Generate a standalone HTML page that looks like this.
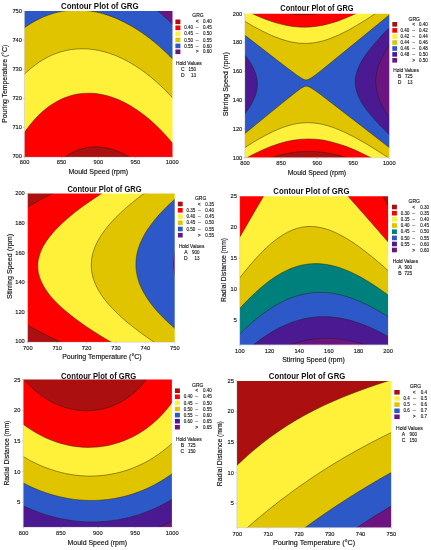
<!DOCTYPE html>
<html lang="en"><head><meta charset="utf-8"><title>Contour Plots of GRG</title>
<style>html,body{margin:0;padding:0;background:#fff}svg{display:block}text{font-family:"Liberation Sans",sans-serif}</style></head><body>
<svg width="431" height="550" viewBox="0 0 431 550">
<rect width="431" height="550" fill="#fff"/>
<g>
<g>
<rect x="22.6" y="9.1" width="151.9" height="149.9" fill="#AB0F0F"/>
<path d="M22.6,9.1 174.5,9.1 174.5,159 132.7,159 128.2,156.2 123.5,153.7 118.8,151.6 114.1,149.9 109.4,148.5 104.7,147.6 100,147 95.9,146.8 91.2,147 87.1,147.5 82.4,148.6 78.3,149.9 74.2,151.6 70.1,153.7 66,156.2 62.2,159 22.6,159 22.6,9.1Z" fill="#FF0000"/>
<path d="M22.6,9.1 174.5,9.1 174.5,145.5 169.8,139.9 164.5,134 159.7,128.9 154.6,124 149.7,119.6 144.6,115.5 139.3,111.5 134,108 129.3,105.1 124.1,102.3 118.8,99.8 113.5,97.7 108.2,96 102.9,94.7 97.7,93.8 93,93.3 87.7,93.2 83,93.4 77.7,94 73,95 68.3,96.4 63.7,98.1 59,100.3 54.3,102.9 49.8,105.8 45.5,109.1 41.4,112.6 37.3,116.6 33.4,120.8 29.6,125.4 26.1,130.1 22.6,135.4 22.6,9.1Z" fill="#FFF03A"/>
<path d="M22.6,9.1 174.5,9.1 174.5,100 169.8,94.9 165.1,90 160.4,85.5 155.1,80.7 150.5,76.8 145.2,72.7 140.5,69.3 135.2,65.8 130.5,62.9 125.2,60 120,57.5 114.7,55.2 109.4,53.3 104.7,51.9 99.4,50.6 94.7,49.7 89.5,49.1 84.8,48.8 80.1,48.8 75.4,49.1 70.7,49.6 66,50.5 61.3,51.7 56.6,53.3 51.9,55.1 47.8,57.1 43.5,59.5 39,62.2 34.9,65.2 30.8,68.4 26.7,72 22.6,76 22.6,9.1Z" fill="#E1C400"/>
<path d="M22.6,9.1 174.5,9.1 174.5,60.9 166.3,52.7 158.1,45.2 149.9,38.5 141.7,32.5 133.4,27.3 129.3,24.9 124.7,22.4 120.5,20.4 116.4,18.5 112.3,16.9 108.2,15.4 102.4,13.6 96.5,12.1 90.6,11.1 85.4,10.4 79.5,10 74.2,10.1 68.9,10.4 63.7,11.1 58.4,12.1 53.1,13.4 47.8,15.2 42.5,17.3 37.3,19.9 32.6,22.5 27.3,25.8 22.6,29.2 22.6,9.1Z" fill="#2D58C8"/>
<path d="M155.6,9.1 174.5,9.1 174.5,26 169.8,21.5 165.1,17.2 160.4,13.1 155.6,9.1Z" fill="#6C1480"/>
<path d="M132.7,159 128.2,156.2 123.5,153.7 118.8,151.6 114.1,149.9 109.4,148.5 104.7,147.6 100,147 95.9,146.8 91.2,147 87.1,147.5 82.4,148.6 78.3,149.9 74.2,151.6 70.1,153.7 66,156.2 62.2,159M174.5,145.5 169.8,139.9 164.5,134 159.7,128.9 154.6,124 149.7,119.6 144.6,115.5 139.3,111.5 134,108 129.3,105.1 124.1,102.3 118.8,99.8 113.5,97.7 108.2,96 102.9,94.7 97.7,93.8 93,93.3 87.7,93.2 83,93.4 77.7,94 73,95 68.3,96.4 63.7,98.1 59,100.3 54.3,102.9 49.8,105.8 45.5,109.1 41.4,112.6 37.3,116.6 33.4,120.8 29.6,125.4 26.1,130.1 22.6,135.4M174.5,100 169.8,94.9 165.1,90 160.4,85.5 155.1,80.7 150.5,76.8 145.2,72.7 140.5,69.3 135.2,65.8 130.5,62.9 125.2,60 120,57.5 114.7,55.2 109.4,53.3 104.7,51.9 99.4,50.6 94.7,49.7 89.5,49.1 84.8,48.8 80.1,48.8 75.4,49.1 70.7,49.6 66,50.5 61.3,51.7 56.6,53.3 51.9,55.1 47.8,57.1 43.5,59.5 39,62.2 34.9,65.2 30.8,68.4 26.7,72 22.6,76M174.5,60.9 169.8,56.1 165.1,51.6 160.4,47.3 155.1,42.7 150,38.6 145.2,35 140.4,31.7 135.2,28.3 130.1,25.3 125.2,22.7 120,20.1 115.3,18 110.1,16 105.3,14.4 100.6,13.1 95.9,12 90.6,11.1 85.9,10.5 81.2,10.1 76.6,10 71.9,10.2 67.2,10.6 62.5,11.3 57.8,12.2 53.1,13.4 48.4,15 43.7,16.8 39.6,18.7 34.9,21.1 30.8,23.5 26.7,26.2 22.6,29.2M174.5,26 169.8,21.5 165.1,17.2 160.4,13.1 155.6,9.1" fill="none" stroke="#1c1c10" stroke-width="0.45"/>
<path fill="#fff" fill-rule="evenodd" d="M21.6,8.1H175.5V160H21.6ZM24.6,11.1H172.5V157H24.6Z"/>
</g>
<path d="M24.4,11.1V157.2H172.5" fill="none" stroke="#aaa" stroke-width="0.4"/>
<path d="M24.4,11.1h-1.3M24.4,40.2h-1.3M24.4,69.3h-1.3M24.4,98.4h-1.3M24.4,127.4h-1.3M24.4,156.5h-1.3M24.6,157.2v1.3M61.5,157.2v1.3M98.4,157.2v1.3M135.3,157.2v1.3M172.2,157.2v1.3" stroke="#888" stroke-width="0.4"/>
<text x="22" y="13" font-size="6.1" text-anchor="end" textLength="9.57" lengthAdjust="spacingAndGlyphs" fill="#111" stroke="#111" stroke-width="0.12">750</text>
<text x="22" y="42.1" font-size="6.1" text-anchor="end" textLength="9.57" lengthAdjust="spacingAndGlyphs" fill="#111" stroke="#111" stroke-width="0.12">740</text>
<text x="22" y="71.2" font-size="6.1" text-anchor="end" textLength="9.57" lengthAdjust="spacingAndGlyphs" fill="#111" stroke="#111" stroke-width="0.12">730</text>
<text x="22" y="100.3" font-size="6.1" text-anchor="end" textLength="9.57" lengthAdjust="spacingAndGlyphs" fill="#111" stroke="#111" stroke-width="0.12">720</text>
<text x="22" y="129.3" font-size="6.1" text-anchor="end" textLength="9.57" lengthAdjust="spacingAndGlyphs" fill="#111" stroke="#111" stroke-width="0.12">710</text>
<text x="22" y="158.4" font-size="6.1" text-anchor="end" textLength="9.57" lengthAdjust="spacingAndGlyphs" fill="#111" stroke="#111" stroke-width="0.12">700</text>
<text x="24.6" y="164.3" font-size="6.1" text-anchor="middle" textLength="9.57" lengthAdjust="spacingAndGlyphs" fill="#111" stroke="#111" stroke-width="0.12">800</text>
<text x="61.5" y="164.3" font-size="6.1" text-anchor="middle" textLength="9.57" lengthAdjust="spacingAndGlyphs" fill="#111" stroke="#111" stroke-width="0.12">850</text>
<text x="98.4" y="164.3" font-size="6.1" text-anchor="middle" textLength="9.57" lengthAdjust="spacingAndGlyphs" fill="#111" stroke="#111" stroke-width="0.12">900</text>
<text x="135.3" y="164.3" font-size="6.1" text-anchor="middle" textLength="9.57" lengthAdjust="spacingAndGlyphs" fill="#111" stroke="#111" stroke-width="0.12">950</text>
<text x="172.2" y="164.3" font-size="6.1" text-anchor="middle" textLength="12.76" lengthAdjust="spacingAndGlyphs" fill="#111" stroke="#111" stroke-width="0.12">1000</text>
<text x="99.8" y="8.8" font-size="8.2" text-anchor="middle" font-weight="bold" textLength="77.70" lengthAdjust="spacingAndGlyphs" fill="#111">Contour Plot of GRG</text>
<text x="98.3" y="174.1" font-size="7.5" text-anchor="middle" textLength="59.70" lengthAdjust="spacingAndGlyphs" fill="#111" stroke="#111" stroke-width="0.15">Mould Speed (rpm)</text>
<text x="7.2" y="83.8" font-size="7.5" text-anchor="middle" textLength="78.10" lengthAdjust="spacingAndGlyphs" transform="rotate(-90 7.2 83.8)" fill="#111" stroke="#111" stroke-width="0.15">Pouring Temperature (°C)</text>
<text x="198" y="17.3" font-size="5.0" text-anchor="middle" fill="#111" stroke="#111" stroke-width="0.12">GRG</text>
<rect x="175.4" y="19.5" width="5" height="4.6" fill="#AB0F0F"/>
<text x="197.1" y="23.4" font-size="5.0" text-anchor="middle" fill="#111" stroke="#111" stroke-width="0.12">&lt;</text>
<text x="211.8" y="23.4" font-size="5.0" text-anchor="end" textLength="8.76" lengthAdjust="spacingAndGlyphs" fill="#111" stroke="#111" stroke-width="0.12">0.40</text>
<rect x="175.4" y="25.5" width="5" height="4.6" fill="#FF0000"/>
<text x="193" y="29.4" font-size="5.0" text-anchor="end" textLength="8.76" lengthAdjust="spacingAndGlyphs" fill="#111" stroke="#111" stroke-width="0.12">0.40</text>
<text x="197.1" y="29.4" font-size="5.0" text-anchor="middle" fill="#111" stroke="#111" stroke-width="0.12">–</text>
<text x="211.8" y="29.4" font-size="5.0" text-anchor="end" textLength="8.76" lengthAdjust="spacingAndGlyphs" fill="#111" stroke="#111" stroke-width="0.12">0.45</text>
<rect x="175.4" y="31.5" width="5" height="4.6" fill="#FFF03A"/>
<text x="193" y="35.4" font-size="5.0" text-anchor="end" textLength="8.76" lengthAdjust="spacingAndGlyphs" fill="#111" stroke="#111" stroke-width="0.12">0.45</text>
<text x="197.1" y="35.4" font-size="5.0" text-anchor="middle" fill="#111" stroke="#111" stroke-width="0.12">–</text>
<text x="211.8" y="35.4" font-size="5.0" text-anchor="end" textLength="8.76" lengthAdjust="spacingAndGlyphs" fill="#111" stroke="#111" stroke-width="0.12">0.50</text>
<rect x="175.4" y="37.6" width="5" height="4.6" fill="#E1C400"/>
<text x="193" y="41.5" font-size="5.0" text-anchor="end" textLength="8.76" lengthAdjust="spacingAndGlyphs" fill="#111" stroke="#111" stroke-width="0.12">0.50</text>
<text x="197.1" y="41.5" font-size="5.0" text-anchor="middle" fill="#111" stroke="#111" stroke-width="0.12">–</text>
<text x="211.8" y="41.5" font-size="5.0" text-anchor="end" textLength="8.76" lengthAdjust="spacingAndGlyphs" fill="#111" stroke="#111" stroke-width="0.12">0.55</text>
<rect x="175.4" y="43.6" width="5" height="4.6" fill="#2D58C8"/>
<text x="193" y="47.5" font-size="5.0" text-anchor="end" textLength="8.76" lengthAdjust="spacingAndGlyphs" fill="#111" stroke="#111" stroke-width="0.12">0.55</text>
<text x="197.1" y="47.5" font-size="5.0" text-anchor="middle" fill="#111" stroke="#111" stroke-width="0.12">–</text>
<text x="211.8" y="47.5" font-size="5.0" text-anchor="end" textLength="8.76" lengthAdjust="spacingAndGlyphs" fill="#111" stroke="#111" stroke-width="0.12">0.60</text>
<rect x="175.4" y="49.5" width="5" height="4.6" fill="#6C1480"/>
<text x="197.1" y="53.4" font-size="5.0" text-anchor="middle" fill="#111" stroke="#111" stroke-width="0.12">&gt;</text>
<text x="211.8" y="53.4" font-size="5.0" text-anchor="end" textLength="8.76" lengthAdjust="spacingAndGlyphs" fill="#111" stroke="#111" stroke-width="0.12">0.60</text>
<text x="176.1" y="64.6" font-size="5.3" textLength="25.70" lengthAdjust="spacingAndGlyphs" fill="#111" stroke="#111" stroke-width="0.12">Hold Values</text>
<text x="182.7" y="70.5" font-size="5.0" text-anchor="middle" fill="#111" stroke="#111" stroke-width="0.12">C</text>
<text x="196.1" y="70.5" font-size="5.0" text-anchor="end" textLength="7.51" lengthAdjust="spacingAndGlyphs" fill="#111" stroke="#111" stroke-width="0.12">150</text>
<text x="182.7" y="76.6" font-size="5.0" text-anchor="middle" fill="#111" stroke="#111" stroke-width="0.12">D</text>
<text x="196.1" y="76.6" font-size="5.0" text-anchor="end" textLength="5.01" lengthAdjust="spacingAndGlyphs" fill="#111" stroke="#111" stroke-width="0.12">13</text>
</g>
<g>
<g>
<rect x="243" y="11.7" width="148.3" height="147.9" fill="#AB0F0F"/>
<path d="M243,11.7 278,11.7 284.8,13.1 291.1,14 297.4,14.5 303.7,14.7 310,14.6 316.3,14 323.2,13 329.6,11.7 391.3,11.7 391.3,159.6 352.3,159.6 346.6,157.7 340.9,156 335.8,154.7 330,153.4 324.3,152.5 319.2,151.9 314,151.5 308.8,151.4 303.7,151.5 298.5,151.8 293.4,152.4 287.7,153.4 281.9,154.6 276.8,156 271.1,157.7 265.6,159.6 243,159.6 243,11.7Z" fill="#FF0000"/>
<path d="M243,11.7 248.1,11.7 257.3,15.9 265.3,19.2 273.3,22 280.8,24.1 287.1,25.5 292.8,26.4 298.5,27 304.3,27.2 310.6,27 316.9,26.3 323.2,25.2 330,23.5 336.9,21.4 343.8,18.8 351.8,15.4 359.5,11.7 391.3,11.7 391.3,159.6 374.6,159.6 364.4,154.4 355.2,150.1 346.6,146.6 338.6,143.9 330.6,141.7 323.2,140.1 315.7,139.2 308.3,138.9 301.4,139.2 294,140.1 286.5,141.5 278.5,143.8 270.5,146.6 262.5,149.9 254.5,153.7 243.3,159.6 243,159.6 243,11.7Z" fill="#FFF03A"/>
<path d="M377.4,12.3 378.2,11.7 391.3,11.7 391.3,159.6 391.1,159.6 375.3,149.4 364.4,142.8 354.1,137 344.9,132.4 340.3,130.4 335.8,128.5 331.8,127 327.7,125.8 323.7,124.7 319.7,123.8 315.7,123.2 312.3,122.9 308.3,122.7 304.8,122.8 301.4,123 297.4,123.5 293.4,124.3 290,125.2 285.9,126.4 281.9,127.8 277.4,129.6 273.3,131.4 264.2,136 254.5,141.5 243,148.7 243,20.2 253.3,26.3 263,31.4 271.6,35.5 275.6,37.1 280.2,38.8 284.2,40.1 287.7,41.1 291.7,42 295.1,42.6 298.5,43.1 302,43.3 305.4,43.4 308.8,43.3 312.3,43 315.7,42.5 319.2,41.8 322.6,40.9 326,39.9 330,38.6 338,35.3 346.6,31.1 355.8,26 365.5,20 377.4,12.3Z" fill="#E1C400"/>
<path d="M391.1,13.4 391.3,13.3 391.3,149.1 342.6,111.4 320.9,94.8 315.1,90.6 311.7,88.3 308.8,86.7 307.1,86.2 305.4,86.3 304.3,86.6 303.1,87.2 300.8,88.5 296.8,91.4 281.9,103.3 243,135.1 243,33.8 281.4,63.5 296.3,74.7 300.3,77.4 303.1,79.1 304.3,79.6 305.4,79.9 307.1,79.8 308.8,79.2 311.7,77.6 315.7,74.7 320.9,70.7 342.6,53.1 391.1,13.4Z" fill="#2D58C8"/>
<path d="M391,26 391.3,25.7 391.3,136.6 382.1,127.6 374.6,119.6 368.4,112.2 365.8,108.8 363.4,105.4 361.3,101.9 359.8,99.1 358.4,96.2 357.3,93.4 356.4,90.5 355.7,87.6 355.3,84.8 355.2,81.9 355.3,79.1 355.7,76.2 356.4,73.4 357.3,70.5 358.4,67.7 360,64.2 361.8,60.8 363.6,58 365.9,54.5 368.4,51.1 374.4,43.7 382.1,35.1 391,26ZM243,52.8 243,52.4 246,56.2 248.8,60.2 251.6,64.8 253.7,68.8 255.3,72.8 256.5,76.8 257.2,80.8 257.4,84.2 257.2,87.6 256.5,91.6 255.5,95.1 253.9,99.1 252,103.1 249.7,107.1 246.6,111.6 243,116.5 243,52.8Z" fill="#4B1A92"/>
<path d="M391,42.5 391.3,42.1 391.3,120.3 387.7,115.1 384.5,109.9 381.7,104.8 379.6,100.2 378,95.6 376.8,91.1 376,86.5 375.8,81.9 375.9,77.4 376.6,72.8 377.7,68.2 379.5,63.1 381.4,58.5 384.1,53.4 387.1,48.2 391,42.5Z" fill="#6C1480"/>
<path d="M278,11.7 284.8,13.1 291.1,14 297.4,14.5 303.7,14.7 310,14.6 316.3,14 323.2,13 329.6,11.7M352.3,159.6 346.6,157.7 340.9,156 335.8,154.7 330,153.4 324.3,152.5 319.2,151.9 314,151.5 308.8,151.4 303.7,151.5 298.5,151.8 293.4,152.4 287.7,153.4 281.9,154.6 276.8,156 271.1,157.7 265.6,159.6M248.1,11.7 256.2,15.4 263.6,18.6 271.1,21.3 277.9,23.4 284.8,25.1 291.1,26.2 298,27 304.3,27.2 310.6,27 316.9,26.3 323.2,25.2 330,23.5 336.9,21.4 343.8,18.8 351.8,15.4 359.5,11.7M374.6,159.6 364.4,154.4 355.2,150.1 346.6,146.6 338.6,143.9 330.6,141.7 323.2,140.1 315.7,139.2 308.3,138.9 301.4,139.2 294,140.1 286.5,141.5 278.5,143.8 270.5,146.6 261.9,150.2 252.7,154.6 243.3,159.6M243,20.2 253.3,26.3 263,31.4 271.6,35.5 275.6,37.1 280.2,38.8 284.2,40.1 287.7,41.1 291.7,42 295.1,42.6 298.5,43.1 302,43.3 305.4,43.4 308.8,43.3 312.3,43 315.7,42.5 319.2,41.8 323.2,40.8 326.6,39.8 330.6,38.4 338.6,35 347.2,30.8 356.4,25.6 366.7,19.3 378.2,11.7M391.1,159.6 377.6,150.8 365.5,143.4 354.7,137.3 344.9,132.4 340.3,130.4 335.8,128.5 331.8,127 327.7,125.8 323.7,124.7 319.7,123.8 315.7,123.2 312.3,122.9 308.3,122.7 304.8,122.8 301.4,123 297.4,123.5 293.4,124.3 290,125.2 285.9,126.4 281.9,127.8 277.4,129.6 273.3,131.4 264.2,136 254.5,141.5 243,148.7M243,33.8 281.4,63.5 296.3,74.7 300.3,77.4 303.1,79.1 304.3,79.6 305.4,79.9 307.1,79.8 308.8,79.2 311.7,77.6 315.7,74.7 320.9,70.7 342.6,53.1 391.3,13.3M391.3,149.1 342.6,111.4 320.9,94.8 315.1,90.6 311.7,88.3 308.8,86.7 307.1,86.2 305.4,86.3 304.3,86.6 303.1,87.2 300.8,88.5 296.8,91.4 281.9,103.3 243,135.1M243,52.4 246.4,56.8 249.6,61.4 252,65.4 254,69.4 255.5,73.4 256.5,76.8 257.2,80.8 257.4,84.2 257.2,87.6 256.5,91.6 255.5,95.1 253.9,99.1 252,103.1 249.7,107.1 246.6,111.6 243,116.5M391.3,136.6 382.1,127.6 374.6,119.6 368.4,112.2 365.8,108.8 363.4,105.4 361.3,101.9 359.8,99.1 358.4,96.2 357.3,93.4 356.4,90.5 355.7,87.6 355.3,84.8 355.2,81.9 355.3,79.1 355.7,76.2 356.4,73.4 357.3,70.5 358.4,67.7 360,64.2 361.8,60.8 363.6,58 365.9,54.5 368.4,51.1 374.4,43.7 382.1,35.1 391.3,25.7M391.3,120.3 387.3,114.5 384.1,109.3 381.4,104.2 379.4,99.6 377.8,95.1 376.7,90.5 376,85.9 375.8,81.4 376,76.8 376.7,72.2 377.9,67.7 379.5,63.1 381.7,58 384.4,52.8 387.5,47.7 391.3,42.1" fill="none" stroke="#1c1c10" stroke-width="0.45"/>
<path fill="#fff" fill-rule="evenodd" d="M242,10.7H392.3V160.6H242ZM245,13.7H389.3V157.6H245Z"/>
</g>
<path d="M244.8,13.7V157.8H389.3" fill="none" stroke="#aaa" stroke-width="0.4"/>
<path d="M244.8,13.7h-1.3M244.8,42.5h-1.3M244.8,71.3h-1.3M244.8,100h-1.3M244.8,128.8h-1.3M244.8,157.6h-1.3M245,157.8v1.3M281.1,157.8v1.3M317.2,157.8v1.3M353.2,157.8v1.3M389.3,157.8v1.3" stroke="#888" stroke-width="0.4"/>
<text x="242.3" y="15.6" font-size="6.1" text-anchor="end" textLength="9.57" lengthAdjust="spacingAndGlyphs" fill="#111" stroke="#111" stroke-width="0.12">200</text>
<text x="242.3" y="44.4" font-size="6.1" text-anchor="end" textLength="9.57" lengthAdjust="spacingAndGlyphs" fill="#111" stroke="#111" stroke-width="0.12">180</text>
<text x="242.3" y="73.2" font-size="6.1" text-anchor="end" textLength="9.57" lengthAdjust="spacingAndGlyphs" fill="#111" stroke="#111" stroke-width="0.12">160</text>
<text x="242.3" y="101.9" font-size="6.1" text-anchor="end" textLength="9.57" lengthAdjust="spacingAndGlyphs" fill="#111" stroke="#111" stroke-width="0.12">140</text>
<text x="242.3" y="130.7" font-size="6.1" text-anchor="end" textLength="9.57" lengthAdjust="spacingAndGlyphs" fill="#111" stroke="#111" stroke-width="0.12">120</text>
<text x="242.3" y="159.5" font-size="6.1" text-anchor="end" textLength="9.57" lengthAdjust="spacingAndGlyphs" fill="#111" stroke="#111" stroke-width="0.12">100</text>
<text x="245" y="164.8" font-size="6.1" text-anchor="middle" textLength="9.57" lengthAdjust="spacingAndGlyphs" fill="#111" stroke="#111" stroke-width="0.12">800</text>
<text x="281.1" y="164.8" font-size="6.1" text-anchor="middle" textLength="9.57" lengthAdjust="spacingAndGlyphs" fill="#111" stroke="#111" stroke-width="0.12">850</text>
<text x="317.2" y="164.8" font-size="6.1" text-anchor="middle" textLength="9.57" lengthAdjust="spacingAndGlyphs" fill="#111" stroke="#111" stroke-width="0.12">900</text>
<text x="353.2" y="164.8" font-size="6.1" text-anchor="middle" textLength="9.57" lengthAdjust="spacingAndGlyphs" fill="#111" stroke="#111" stroke-width="0.12">950</text>
<text x="389.3" y="164.8" font-size="6.1" text-anchor="middle" textLength="12.76" lengthAdjust="spacingAndGlyphs" fill="#111" stroke="#111" stroke-width="0.12">1000</text>
<text x="317" y="11.1" font-size="8.2" text-anchor="middle" font-weight="bold" textLength="73.30" lengthAdjust="spacingAndGlyphs" fill="#111">Contour Plot of GRG</text>
<text x="316.9" y="174.5" font-size="7.5" text-anchor="middle" textLength="58.50" lengthAdjust="spacingAndGlyphs" fill="#111" stroke="#111" stroke-width="0.15">Mould Speed (rpm)</text>
<text x="228.3" y="84.2" font-size="7.5" text-anchor="middle" textLength="64.00" lengthAdjust="spacingAndGlyphs" transform="rotate(-90 228.3 84.2)" fill="#111" stroke="#111" stroke-width="0.15">Stirring Speed (rpm)</text>
<text x="414.3" y="20.5" font-size="5.0" text-anchor="middle" fill="#111" stroke="#111" stroke-width="0.12">GRG</text>
<rect x="392.3" y="22" width="4.8" height="4.6" fill="#AB0F0F"/>
<text x="413.7" y="25.9" font-size="5.0" text-anchor="middle" fill="#111" stroke="#111" stroke-width="0.12">&lt;</text>
<text x="427.7" y="25.9" font-size="5.0" text-anchor="end" textLength="8.76" lengthAdjust="spacingAndGlyphs" fill="#111" stroke="#111" stroke-width="0.12">0.40</text>
<rect x="392.3" y="28.1" width="4.8" height="4.6" fill="#FF0000"/>
<text x="409.2" y="32" font-size="5.0" text-anchor="end" textLength="8.76" lengthAdjust="spacingAndGlyphs" fill="#111" stroke="#111" stroke-width="0.12">0.40</text>
<text x="413.7" y="32" font-size="5.0" text-anchor="middle" fill="#111" stroke="#111" stroke-width="0.12">–</text>
<text x="427.7" y="32" font-size="5.0" text-anchor="end" textLength="8.76" lengthAdjust="spacingAndGlyphs" fill="#111" stroke="#111" stroke-width="0.12">0.42</text>
<rect x="392.3" y="34.2" width="4.8" height="4.6" fill="#FFF03A"/>
<text x="409.2" y="38.1" font-size="5.0" text-anchor="end" textLength="8.76" lengthAdjust="spacingAndGlyphs" fill="#111" stroke="#111" stroke-width="0.12">0.42</text>
<text x="413.7" y="38.1" font-size="5.0" text-anchor="middle" fill="#111" stroke="#111" stroke-width="0.12">–</text>
<text x="427.7" y="38.1" font-size="5.0" text-anchor="end" textLength="8.76" lengthAdjust="spacingAndGlyphs" fill="#111" stroke="#111" stroke-width="0.12">0.44</text>
<rect x="392.3" y="40.2" width="4.8" height="4.6" fill="#E1C400"/>
<text x="409.2" y="44.1" font-size="5.0" text-anchor="end" textLength="8.76" lengthAdjust="spacingAndGlyphs" fill="#111" stroke="#111" stroke-width="0.12">0.44</text>
<text x="413.7" y="44.1" font-size="5.0" text-anchor="middle" fill="#111" stroke="#111" stroke-width="0.12">–</text>
<text x="427.7" y="44.1" font-size="5.0" text-anchor="end" textLength="8.76" lengthAdjust="spacingAndGlyphs" fill="#111" stroke="#111" stroke-width="0.12">0.46</text>
<rect x="392.3" y="46.2" width="4.8" height="4.6" fill="#2D58C8"/>
<text x="409.2" y="50.1" font-size="5.0" text-anchor="end" textLength="8.76" lengthAdjust="spacingAndGlyphs" fill="#111" stroke="#111" stroke-width="0.12">0.46</text>
<text x="413.7" y="50.1" font-size="5.0" text-anchor="middle" fill="#111" stroke="#111" stroke-width="0.12">–</text>
<text x="427.7" y="50.1" font-size="5.0" text-anchor="end" textLength="8.76" lengthAdjust="spacingAndGlyphs" fill="#111" stroke="#111" stroke-width="0.12">0.48</text>
<rect x="392.3" y="52.1" width="4.8" height="4.6" fill="#4B1A92"/>
<text x="409.2" y="56" font-size="5.0" text-anchor="end" textLength="8.76" lengthAdjust="spacingAndGlyphs" fill="#111" stroke="#111" stroke-width="0.12">0.48</text>
<text x="413.7" y="56" font-size="5.0" text-anchor="middle" fill="#111" stroke="#111" stroke-width="0.12">–</text>
<text x="427.7" y="56" font-size="5.0" text-anchor="end" textLength="8.76" lengthAdjust="spacingAndGlyphs" fill="#111" stroke="#111" stroke-width="0.12">0.50</text>
<rect x="392.3" y="58" width="4.8" height="4.6" fill="#6C1480"/>
<text x="413.7" y="61.9" font-size="5.0" text-anchor="middle" fill="#111" stroke="#111" stroke-width="0.12">&gt;</text>
<text x="427.7" y="61.9" font-size="5.0" text-anchor="end" textLength="8.76" lengthAdjust="spacingAndGlyphs" fill="#111" stroke="#111" stroke-width="0.12">0.50</text>
<text x="393.3" y="71.6" font-size="5.3" textLength="25.50" lengthAdjust="spacingAndGlyphs" fill="#111" stroke="#111" stroke-width="0.12">Hold Values</text>
<text x="399.6" y="77.6" font-size="5.0" text-anchor="middle" fill="#111" stroke="#111" stroke-width="0.12">B</text>
<text x="412.4" y="77.6" font-size="5.0" text-anchor="end" textLength="7.51" lengthAdjust="spacingAndGlyphs" fill="#111" stroke="#111" stroke-width="0.12">725</text>
<text x="399.6" y="83.7" font-size="5.0" text-anchor="middle" fill="#111" stroke="#111" stroke-width="0.12">D</text>
<text x="412.4" y="83.7" font-size="5.0" text-anchor="end" textLength="5.01" lengthAdjust="spacingAndGlyphs" fill="#111" stroke="#111" stroke-width="0.12">13</text>
</g>
<g>
<g>
<rect x="25.8" y="191.5" width="150.9" height="152.5" fill="#AB0F0F"/>
<path d="M54.8,192.1 55.9,191.5 176.7,191.5 176.7,344 64.3,344 44.1,334 35,329.3 25.8,324.3 25.8,208.1 39.5,200.3 54.8,192.1Z" fill="#FF0000"/>
<path d="M103.8,192.1 104.8,191.5 176.7,191.5 176.7,344 114.3,344 99.6,335.2 86.8,326.9 76,319.3 70.6,315.1 66.3,311.6 61.6,307.5 57.8,304 54.4,300.4 51.2,296.9 48.4,293.4 45.8,289.8 43.7,286.3 41.8,282.8 40.5,279.8 39.7,277.5 38.8,274.5 38.3,272.2 37.8,267.5 37.8,265.1 38,262.2 38.3,259.8 39,256.9 39.7,254.5 40.7,251.6 41.8,249.2 43.2,246.3 46.5,241 50.4,235.7 55.6,229.8 61.4,223.9 68,218 75.2,212.1 83.9,205.6 93.1,199.2 103.8,192.1Z" fill="#FFF03A"/>
<path d="M145.8,192.1 146.6,191.5 176.7,191.5 176.7,344 156.9,344 149.1,338.7 141.6,333.4 134.5,328.1 127.9,322.8 120.4,316.3 113.7,309.8 107.8,303.4 103.2,297.5 99.3,291.6 97.6,288.7 96.1,285.7 94.8,282.8 93.7,279.8 92.8,276.9 92.1,273.9 91.4,269.2 91.2,264.5 91.6,259.8 92.5,254.5 93.9,249.8 95.8,245.1 98.2,240.4 101.4,235.1 104.7,230.4 108.9,225.1 113.7,219.8 118.9,214.5 124.6,209.2 131.5,203.3 138,198 145.8,192.1Z" fill="#E1C400"/>
<path d="M176.2,198 176.7,197.5 176.7,330 171.8,325.7 166.7,321 162.5,316.9 158.6,312.8 154.9,308.7 151.6,304.6 148.6,300.4 145.9,296.3 143.5,292.2 141.4,288.1 139.6,283.9 138.4,280.4 137.3,276.3 136.5,272.2 136,268.6 135.9,264.5 136,261 136.4,256.9 137.2,252.7 138.3,248.6 139.7,244.5 141.5,240.4 143.6,236.2 145.9,232.1 148.6,228 151.5,223.9 154.8,219.8 158.3,215.6 162.1,211.5 166.7,206.8 171,202.7 176.2,198Z" fill="#2D58C8"/>
<path d="M176.6,245.7 176.7,245.3 176.7,282.3 175.5,278.1 174.5,273.3 173.9,268.6 173.7,263.9 173.8,259.8 174.4,255.1 175.3,250.4 176.6,245.7Z" fill="#6C1480"/>
<path d="M25.8,208.1 39.5,200.3 55.9,191.5M64.3,344 44.1,334 35,329.3 25.8,324.3M114.3,344 104.4,338.1 95.8,332.8 87.7,327.5 80.9,322.8 73.7,317.5 67.7,312.8 62.2,308.1 57.2,303.4 52.8,298.7 48.8,294 45.5,289.2 43,285.1 40.8,280.4 39.3,276.3 38.3,272.2 37.8,268 37.8,263.9 38.3,259.8 39.3,255.7 41,251 42.9,246.8 45.7,242.1 49,237.4 52.9,232.7 57.2,228 62.1,223.3 67.3,218.6 73.7,213.3 80.6,208 88,202.7 95.7,197.4 104.8,191.5M156.9,344 149.1,338.7 141.6,333.4 134.5,328.1 128.6,323.4 122.4,318.1 117.3,313.4 112.6,308.7 108.3,304 104.5,299.3 101.1,294.5 98.2,289.8 96.1,285.7 94.1,281 92.8,276.9 91.8,272.2 91.3,268 91.3,263.9 91.6,259.2 92.5,254.5 93.9,249.8 95.5,245.7 97.8,241 100.6,236.2 103.8,231.5 107.4,226.8 111.5,222.1 115.9,217.4 121.4,212.1 126.6,207.4 132.9,202.1 139.6,196.8 146.6,191.5M176.7,330 171.8,325.7 166.7,321 162.5,316.9 158.6,312.8 154.9,308.7 151.6,304.6 148.6,300.4 145.9,296.3 143.5,292.2 141.4,288.1 139.6,283.9 138.4,280.4 137.3,276.3 136.5,272.2 136,268.6 135.9,264.5 136,261 136.4,256.9 137.2,252.7 138.3,248.6 139.7,244.5 141.5,240.4 143.6,236.2 145.9,232.1 148.6,228 151.5,223.9 154.8,219.8 158.8,215.1 162.6,210.9 167.3,206.2 171.6,202.1 176.7,197.5M176.7,282.3 175.5,278.1 174.5,273.3 173.9,268.6 173.7,263.9 173.9,259.2 174.4,254.5 175.4,249.8 176.7,245.3" fill="none" stroke="#1c1c10" stroke-width="0.45"/>
<path fill="#fff" fill-rule="evenodd" d="M24.8,190.5H177.7V345H24.8ZM27.8,193.5H174.7V342H27.8Z"/>
</g>
<path d="M27.6,193.5V342.2H174.7" fill="none" stroke="#aaa" stroke-width="0.4"/>
<path d="M27.6,193.4h-1.3M27.6,223h-1.3M27.6,252.6h-1.3M27.6,282.1h-1.3M27.6,311.7h-1.3M27.6,341.3h-1.3M27.8,342.2v1.3M57.2,342.2v1.3M86.6,342.2v1.3M116,342.2v1.3M145.4,342.2v1.3M174.8,342.2v1.3" stroke="#888" stroke-width="0.4"/>
<text x="24.8" y="195.3" font-size="6.1" text-anchor="end" textLength="9.57" lengthAdjust="spacingAndGlyphs" fill="#111" stroke="#111" stroke-width="0.12">200</text>
<text x="24.8" y="224.9" font-size="6.1" text-anchor="end" textLength="9.57" lengthAdjust="spacingAndGlyphs" fill="#111" stroke="#111" stroke-width="0.12">180</text>
<text x="24.8" y="254.5" font-size="6.1" text-anchor="end" textLength="9.57" lengthAdjust="spacingAndGlyphs" fill="#111" stroke="#111" stroke-width="0.12">160</text>
<text x="24.8" y="284" font-size="6.1" text-anchor="end" textLength="9.57" lengthAdjust="spacingAndGlyphs" fill="#111" stroke="#111" stroke-width="0.12">140</text>
<text x="24.8" y="313.6" font-size="6.1" text-anchor="end" textLength="9.57" lengthAdjust="spacingAndGlyphs" fill="#111" stroke="#111" stroke-width="0.12">120</text>
<text x="24.8" y="343.2" font-size="6.1" text-anchor="end" textLength="9.57" lengthAdjust="spacingAndGlyphs" fill="#111" stroke="#111" stroke-width="0.12">100</text>
<text x="27.8" y="350" font-size="6.1" text-anchor="middle" textLength="9.57" lengthAdjust="spacingAndGlyphs" fill="#111" stroke="#111" stroke-width="0.12">700</text>
<text x="57.2" y="350" font-size="6.1" text-anchor="middle" textLength="9.57" lengthAdjust="spacingAndGlyphs" fill="#111" stroke="#111" stroke-width="0.12">710</text>
<text x="86.6" y="350" font-size="6.1" text-anchor="middle" textLength="9.57" lengthAdjust="spacingAndGlyphs" fill="#111" stroke="#111" stroke-width="0.12">720</text>
<text x="116" y="350" font-size="6.1" text-anchor="middle" textLength="9.57" lengthAdjust="spacingAndGlyphs" fill="#111" stroke="#111" stroke-width="0.12">730</text>
<text x="145.4" y="350" font-size="6.1" text-anchor="middle" textLength="9.57" lengthAdjust="spacingAndGlyphs" fill="#111" stroke="#111" stroke-width="0.12">740</text>
<text x="174.8" y="350" font-size="6.1" text-anchor="middle" textLength="9.57" lengthAdjust="spacingAndGlyphs" fill="#111" stroke="#111" stroke-width="0.12">750</text>
<text x="104.5" y="192.1" font-size="8.2" text-anchor="middle" font-weight="bold" textLength="74.20" lengthAdjust="spacingAndGlyphs" fill="#111">Contour Plot of GRG</text>
<text x="101.9" y="359.1" font-size="7.5" text-anchor="middle" textLength="79.40" lengthAdjust="spacingAndGlyphs" fill="#111" stroke="#111" stroke-width="0.15">Pouring Temperature (°C)</text>
<text x="11.6" y="266.4" font-size="7.5" text-anchor="middle" textLength="65.00" lengthAdjust="spacingAndGlyphs" transform="rotate(-90 11.6 266.4)" fill="#111" stroke="#111" stroke-width="0.15">Stirring Speed (rpm)</text>
<text x="200.6" y="200.3" font-size="5.0" text-anchor="middle" fill="#111" stroke="#111" stroke-width="0.12">GRG</text>
<rect x="177.9" y="201.7" width="4.8" height="4.6" fill="#AB0F0F"/>
<text x="199.3" y="205.6" font-size="5.0" text-anchor="middle" fill="#111" stroke="#111" stroke-width="0.12">&lt;</text>
<text x="214" y="205.6" font-size="5.0" text-anchor="end" textLength="8.76" lengthAdjust="spacingAndGlyphs" fill="#111" stroke="#111" stroke-width="0.12">0.35</text>
<rect x="177.9" y="208" width="4.8" height="4.6" fill="#FF0000"/>
<text x="195.2" y="211.9" font-size="5.0" text-anchor="end" textLength="8.76" lengthAdjust="spacingAndGlyphs" fill="#111" stroke="#111" stroke-width="0.12">0.35</text>
<text x="199.3" y="211.9" font-size="5.0" text-anchor="middle" fill="#111" stroke="#111" stroke-width="0.12">–</text>
<text x="214" y="211.9" font-size="5.0" text-anchor="end" textLength="8.76" lengthAdjust="spacingAndGlyphs" fill="#111" stroke="#111" stroke-width="0.12">0.40</text>
<rect x="177.9" y="214.3" width="4.8" height="4.6" fill="#FFF03A"/>
<text x="195.2" y="218.2" font-size="5.0" text-anchor="end" textLength="8.76" lengthAdjust="spacingAndGlyphs" fill="#111" stroke="#111" stroke-width="0.12">0.40</text>
<text x="199.3" y="218.2" font-size="5.0" text-anchor="middle" fill="#111" stroke="#111" stroke-width="0.12">–</text>
<text x="214" y="218.2" font-size="5.0" text-anchor="end" textLength="8.76" lengthAdjust="spacingAndGlyphs" fill="#111" stroke="#111" stroke-width="0.12">0.45</text>
<rect x="177.9" y="220.5" width="4.8" height="4.6" fill="#E1C400"/>
<text x="195.2" y="224.4" font-size="5.0" text-anchor="end" textLength="8.76" lengthAdjust="spacingAndGlyphs" fill="#111" stroke="#111" stroke-width="0.12">0.45</text>
<text x="199.3" y="224.4" font-size="5.0" text-anchor="middle" fill="#111" stroke="#111" stroke-width="0.12">–</text>
<text x="214" y="224.4" font-size="5.0" text-anchor="end" textLength="8.76" lengthAdjust="spacingAndGlyphs" fill="#111" stroke="#111" stroke-width="0.12">0.50</text>
<rect x="177.9" y="226.7" width="4.8" height="4.6" fill="#2D58C8"/>
<text x="195.2" y="230.6" font-size="5.0" text-anchor="end" textLength="8.76" lengthAdjust="spacingAndGlyphs" fill="#111" stroke="#111" stroke-width="0.12">0.50</text>
<text x="199.3" y="230.6" font-size="5.0" text-anchor="middle" fill="#111" stroke="#111" stroke-width="0.12">–</text>
<text x="214" y="230.6" font-size="5.0" text-anchor="end" textLength="8.76" lengthAdjust="spacingAndGlyphs" fill="#111" stroke="#111" stroke-width="0.12">0.55</text>
<rect x="177.9" y="232.9" width="4.8" height="4.6" fill="#6C1480"/>
<text x="199.3" y="236.8" font-size="5.0" text-anchor="middle" fill="#111" stroke="#111" stroke-width="0.12">&gt;</text>
<text x="214" y="236.8" font-size="5.0" text-anchor="end" textLength="8.76" lengthAdjust="spacingAndGlyphs" fill="#111" stroke="#111" stroke-width="0.12">0.55</text>
<text x="178.9" y="247.8" font-size="5.3" textLength="25.50" lengthAdjust="spacingAndGlyphs" fill="#111" stroke="#111" stroke-width="0.12">Hold Values</text>
<text x="185.9" y="254" font-size="5.0" text-anchor="middle" fill="#111" stroke="#111" stroke-width="0.12">A</text>
<text x="199.6" y="254" font-size="5.0" text-anchor="end" textLength="7.51" lengthAdjust="spacingAndGlyphs" fill="#111" stroke="#111" stroke-width="0.12">900</text>
<text x="185.9" y="260.1" font-size="5.0" text-anchor="middle" fill="#111" stroke="#111" stroke-width="0.12">D</text>
<text x="199.6" y="260.1" font-size="5.0" text-anchor="end" textLength="5.01" lengthAdjust="spacingAndGlyphs" fill="#111" stroke="#111" stroke-width="0.12">13</text>
</g>
<g>
<g>
<rect x="237.9" y="194.2" width="152.2" height="152.5" fill="#AB0F0F"/>
<path d="M237.9,194.2 381.7,194.2 385.7,201.3 390.1,208.7 390.1,346.7 237.9,346.7 237.9,194.2Z" fill="#FF0000"/>
<path d="M264.8,194.2 346.2,194.2 364.8,215.2 390.1,244.2 390.1,346.7 237.9,346.7 237.9,240.4 253.2,213.9 264.8,194.2Z" fill="#FFF03A"/>
<path d="M306.8,226.6 310.8,226.5 314.9,226.7 319,227.2 323.7,228.3 328.4,229.7 333.1,231.5 337.8,233.7 342.5,236.1 347.8,239.2 353.1,242.6 358.4,246.3 364.2,250.6 370.1,255.2 376.6,260.6 383,266.1 390.1,272.4 390.1,346.7 237.9,346.7 237.9,280.3 243.2,273.5 247.9,267.7 252.6,262.2 257.3,257 262,252 266.1,248 270.8,243.8 274.9,240.4 279,237.4 283.1,234.7 287.3,232.4 290.8,230.7 294.9,229.1 299,227.9 303.1,227 306.8,226.6Z" fill="#E1C400"/>
<path d="M312.6,263.7 316.6,263.6 320.8,263.8 324.9,264.2 329.6,265 333.7,266 338.4,267.3 343.1,268.9 347.8,270.8 352.5,272.9 357.8,275.5 362.5,278.1 367.8,281.2 373.1,284.5 378.3,288.1 384.2,292.2 390.1,296.6 390.1,346.7 237.9,346.7 237.9,310.5 238.5,309.8 243.8,304.1 248.5,299.2 253.8,294.1 258.5,289.8 263.2,285.7 267.9,282 272.6,278.6 277.3,275.5 282,272.8 286.1,270.7 290.8,268.6 294.9,267.1 299,265.8 303.7,264.7 308.4,264 312.6,263.7Z" fill="#00807C"/>
<path d="M314.6,292.5 319,292.4 323.1,292.4 327.2,292.7 331.9,293.2 336,293.9 340.7,294.9 345.4,296.2 350.1,297.7 354.8,299.4 359.5,301.3 364.2,303.4 369.5,306 379.5,311.5 390.1,318 390.1,346.7 237.9,346.7 237.9,335.9 245.5,328.4 252.6,322.1 259.6,316.3 266.1,311.5 272.6,307.2 278.4,303.7 284.9,300.4 290.8,297.9 296.7,295.9 302.5,294.3 308.4,293.2 314.6,292.5Z" fill="#2D58C8"/>
<path d="M322.3,316.7 328.4,316.8 334.3,317.3 340.2,318.1 346,319.3 351.9,320.8 358.4,322.8 364.8,325.2 371.3,327.9 380.7,332.4 390.1,337.5 390.1,346.7 251,346.7 255.5,343.1 260.2,339.6 264.9,336.4 269.6,333.3 274.3,330.5 278.4,328.3 282.6,326.3 287.3,324.2 292,322.3 296.1,320.9 300.2,319.7 304.9,318.6 309.6,317.8 313.7,317.2 317.8,316.8 322.3,316.7Z" fill="#4B1A92"/>
<path d="M318.5,338.5 324.9,338.1 330.7,338.2 337.2,338.7 343.7,339.5 350.1,340.7 356.6,342.3 363.1,344.2 370.3,346.7 285.8,346.7 293.7,343.7 297.8,342.4 302,341.2 306.1,340.3 310.2,339.5 314.3,338.9 318.5,338.5Z" fill="#6C1480"/>
<path d="M381.7,194.2 385.7,201.3 390.1,208.7M346.2,194.2 364.8,215.2 390.1,244.2M237.9,240.4 253.2,213.9 264.8,194.2M237.9,280.3 243.2,273.5 248.5,267 253.2,261.5 257.9,256.3 262.6,251.5 266.7,247.5 271.4,243.3 275.5,240 279.6,237 283.7,234.4 287.8,232.1 292,230.2 296.1,228.7 299.6,227.7 303.7,226.9 307.8,226.5 311.9,226.5 316.1,226.8 320.2,227.5 324.9,228.6 329,229.9 333.7,231.8 338.4,234 343.1,236.5 347.8,239.2 353.1,242.6 358.4,246.3 364.2,250.6 370.1,255.2 376.6,260.6 383,266.1 390.1,272.4M237.9,310.5 243.2,304.7 247.9,299.8 252.6,295.2 257.3,290.8 262,286.7 266.7,282.9 271.4,279.4 275.5,276.6 280.2,273.8 284.3,271.5 289,269.3 293.1,267.7 297.3,266.3 301.4,265.2 305.5,264.4 310.2,263.8 314.3,263.6 319,263.7 323.1,264 327.8,264.7 332.5,265.7 337.2,266.9 341.9,268.5 346.6,270.3 351.3,272.3 356.6,274.9 361.9,277.8 367.2,280.8 372.5,284.2 378.3,288.1 384.2,292.2 390.1,296.6M237.9,335.9 243.2,330.7 247.9,326.3 252.6,322.1 257.3,318.2 262,314.5 266.7,311.1 271.4,307.9 275.5,305.4 280.2,302.8 284.3,300.7 289,298.6 293.1,297.1 297.3,295.7 302,294.5 306.7,293.5 310.8,292.9 314.9,292.5 319.6,292.3 324.3,292.5 329,292.8 333.7,293.5 338.4,294.4 343.1,295.5 347.8,296.9 352.5,298.5 357.8,300.6 362.5,302.6 367.8,305.1 373.1,307.9 378.9,311.1 384.2,314.3 390.1,318M251,346.7 259.6,340 264.3,336.8 268.5,334.1 272.6,331.6 276.7,329.2 280.8,327.1 284.9,325.2 289,323.5 293.1,321.9 297.3,320.6 301.4,319.4 305.5,318.5 309.6,317.8 313.7,317.2 317.8,316.8 321.9,316.7 326,316.7 330.2,316.9 334.3,317.3 338.4,317.8 343.1,318.7 347.2,319.6 351.9,320.8 360.7,323.7 365.4,325.5 370.1,327.4 374.8,329.5 380.1,332.1 390.1,337.5M285.8,346.7 290.8,344.7 296.1,342.9 300.8,341.5 306.1,340.3 310.8,339.4 316.1,338.7 321.3,338.3 326.6,338.1 331.9,338.3 337.2,338.7 342.5,339.3 347.8,340.2 353.1,341.4 359,342.9 364.8,344.8 370.3,346.7" fill="none" stroke="#1c1c10" stroke-width="0.45"/>
<path fill="#fff" fill-rule="evenodd" d="M236.9,193.2H391.1V347.7H236.9ZM239.9,196.2H388.1V344.7H239.9Z"/>
</g>
<path d="M239.7,196.2V344.9H388.1" fill="none" stroke="#aaa" stroke-width="0.4"/>
<path d="M239.7,196.3h-1.3M239.7,227.2h-1.3M239.7,258.2h-1.3M239.7,289.1h-1.3M239.7,320.1h-1.3M239.9,344.9v1.3M269.5,344.9v1.3M299.2,344.9v1.3M328.8,344.9v1.3M358.5,344.9v1.3M388.1,344.9v1.3" stroke="#888" stroke-width="0.4"/>
<text x="236.9" y="198.2" font-size="6.1" text-anchor="end" textLength="6.38" lengthAdjust="spacingAndGlyphs" fill="#111" stroke="#111" stroke-width="0.12">25</text>
<text x="236.9" y="229.1" font-size="6.1" text-anchor="end" textLength="6.38" lengthAdjust="spacingAndGlyphs" fill="#111" stroke="#111" stroke-width="0.12">20</text>
<text x="236.9" y="260.1" font-size="6.1" text-anchor="end" textLength="6.38" lengthAdjust="spacingAndGlyphs" fill="#111" stroke="#111" stroke-width="0.12">15</text>
<text x="236.9" y="291" font-size="6.1" text-anchor="end" textLength="6.38" lengthAdjust="spacingAndGlyphs" fill="#111" stroke="#111" stroke-width="0.12">10</text>
<text x="236.9" y="322" font-size="6.1" text-anchor="end" fill="#111" stroke="#111" stroke-width="0.12">5</text>
<text x="239.9" y="352.7" font-size="6.1" text-anchor="middle" textLength="9.57" lengthAdjust="spacingAndGlyphs" fill="#111" stroke="#111" stroke-width="0.12">100</text>
<text x="269.5" y="352.7" font-size="6.1" text-anchor="middle" textLength="9.57" lengthAdjust="spacingAndGlyphs" fill="#111" stroke="#111" stroke-width="0.12">120</text>
<text x="299.2" y="352.7" font-size="6.1" text-anchor="middle" textLength="9.57" lengthAdjust="spacingAndGlyphs" fill="#111" stroke="#111" stroke-width="0.12">140</text>
<text x="328.8" y="352.7" font-size="6.1" text-anchor="middle" textLength="9.57" lengthAdjust="spacingAndGlyphs" fill="#111" stroke="#111" stroke-width="0.12">160</text>
<text x="358.5" y="352.7" font-size="6.1" text-anchor="middle" textLength="9.57" lengthAdjust="spacingAndGlyphs" fill="#111" stroke="#111" stroke-width="0.12">180</text>
<text x="388.1" y="352.7" font-size="6.1" text-anchor="middle" textLength="9.57" lengthAdjust="spacingAndGlyphs" fill="#111" stroke="#111" stroke-width="0.12">200</text>
<text x="311.4" y="194.4" font-size="8.2" text-anchor="middle" font-weight="bold" textLength="76.10" lengthAdjust="spacingAndGlyphs" fill="#111">Contour Plot of GRG</text>
<text x="313.5" y="362.4" font-size="7.5" text-anchor="middle" textLength="62.70" lengthAdjust="spacingAndGlyphs" fill="#111" stroke="#111" stroke-width="0.15">Stirring Speed (rpm)</text>
<text x="225.9" y="269.9" font-size="7.5" text-anchor="middle" textLength="64.00" lengthAdjust="spacingAndGlyphs" transform="rotate(-90 225.9 269.9)" fill="#111" stroke="#111" stroke-width="0.15">Radial Distance (mm)</text>
<text x="414.3" y="202.9" font-size="5.0" text-anchor="middle" fill="#111" stroke="#111" stroke-width="0.12">GRG</text>
<rect x="392" y="204.7" width="4.9" height="4.6" fill="#AB0F0F"/>
<text x="413.6" y="208.6" font-size="5.0" text-anchor="middle" fill="#111" stroke="#111" stroke-width="0.12">&lt;</text>
<text x="429" y="208.6" font-size="5.0" text-anchor="end" textLength="8.76" lengthAdjust="spacingAndGlyphs" fill="#111" stroke="#111" stroke-width="0.12">0.30</text>
<rect x="392" y="210.9" width="4.9" height="4.6" fill="#FF0000"/>
<text x="409.4" y="214.8" font-size="5.0" text-anchor="end" textLength="8.76" lengthAdjust="spacingAndGlyphs" fill="#111" stroke="#111" stroke-width="0.12">0.30</text>
<text x="413.6" y="214.8" font-size="5.0" text-anchor="middle" fill="#111" stroke="#111" stroke-width="0.12">–</text>
<text x="429" y="214.8" font-size="5.0" text-anchor="end" textLength="8.76" lengthAdjust="spacingAndGlyphs" fill="#111" stroke="#111" stroke-width="0.12">0.35</text>
<rect x="392" y="217" width="4.9" height="4.6" fill="#FFF03A"/>
<text x="409.4" y="220.9" font-size="5.0" text-anchor="end" textLength="8.76" lengthAdjust="spacingAndGlyphs" fill="#111" stroke="#111" stroke-width="0.12">0.35</text>
<text x="413.6" y="220.9" font-size="5.0" text-anchor="middle" fill="#111" stroke="#111" stroke-width="0.12">–</text>
<text x="429" y="220.9" font-size="5.0" text-anchor="end" textLength="8.76" lengthAdjust="spacingAndGlyphs" fill="#111" stroke="#111" stroke-width="0.12">0.40</text>
<rect x="392" y="223.2" width="4.9" height="4.6" fill="#E1C400"/>
<text x="409.4" y="227.1" font-size="5.0" text-anchor="end" textLength="8.76" lengthAdjust="spacingAndGlyphs" fill="#111" stroke="#111" stroke-width="0.12">0.40</text>
<text x="413.6" y="227.1" font-size="5.0" text-anchor="middle" fill="#111" stroke="#111" stroke-width="0.12">–</text>
<text x="429" y="227.1" font-size="5.0" text-anchor="end" textLength="8.76" lengthAdjust="spacingAndGlyphs" fill="#111" stroke="#111" stroke-width="0.12">0.45</text>
<rect x="392" y="229.4" width="4.9" height="4.6" fill="#00807C"/>
<text x="409.4" y="233.3" font-size="5.0" text-anchor="end" textLength="8.76" lengthAdjust="spacingAndGlyphs" fill="#111" stroke="#111" stroke-width="0.12">0.45</text>
<text x="413.6" y="233.3" font-size="5.0" text-anchor="middle" fill="#111" stroke="#111" stroke-width="0.12">–</text>
<text x="429" y="233.3" font-size="5.0" text-anchor="end" textLength="8.76" lengthAdjust="spacingAndGlyphs" fill="#111" stroke="#111" stroke-width="0.12">0.50</text>
<rect x="392" y="235.6" width="4.9" height="4.6" fill="#2D58C8"/>
<text x="409.4" y="239.5" font-size="5.0" text-anchor="end" textLength="8.76" lengthAdjust="spacingAndGlyphs" fill="#111" stroke="#111" stroke-width="0.12">0.50</text>
<text x="413.6" y="239.5" font-size="5.0" text-anchor="middle" fill="#111" stroke="#111" stroke-width="0.12">–</text>
<text x="429" y="239.5" font-size="5.0" text-anchor="end" textLength="8.76" lengthAdjust="spacingAndGlyphs" fill="#111" stroke="#111" stroke-width="0.12">0.55</text>
<rect x="392" y="241.7" width="4.9" height="4.6" fill="#4B1A92"/>
<text x="409.4" y="245.6" font-size="5.0" text-anchor="end" textLength="8.76" lengthAdjust="spacingAndGlyphs" fill="#111" stroke="#111" stroke-width="0.12">0.55</text>
<text x="413.6" y="245.6" font-size="5.0" text-anchor="middle" fill="#111" stroke="#111" stroke-width="0.12">–</text>
<text x="429" y="245.6" font-size="5.0" text-anchor="end" textLength="8.76" lengthAdjust="spacingAndGlyphs" fill="#111" stroke="#111" stroke-width="0.12">0.60</text>
<rect x="392" y="247.7" width="4.9" height="4.6" fill="#6C1480"/>
<text x="413.6" y="251.6" font-size="5.0" text-anchor="middle" fill="#111" stroke="#111" stroke-width="0.12">&gt;</text>
<text x="429" y="251.6" font-size="5.0" text-anchor="end" textLength="8.76" lengthAdjust="spacingAndGlyphs" fill="#111" stroke="#111" stroke-width="0.12">0.60</text>
<text x="392.7" y="263" font-size="5.3" textLength="25.50" lengthAdjust="spacingAndGlyphs" fill="#111" stroke="#111" stroke-width="0.12">Hold Values</text>
<text x="400" y="268.8" font-size="5.0" text-anchor="middle" fill="#111" stroke="#111" stroke-width="0.12">A</text>
<text x="412" y="268.8" font-size="5.0" text-anchor="end" textLength="7.51" lengthAdjust="spacingAndGlyphs" fill="#111" stroke="#111" stroke-width="0.12">900</text>
<text x="400" y="275" font-size="5.0" text-anchor="middle" fill="#111" stroke="#111" stroke-width="0.12">B</text>
<text x="412" y="275" font-size="5.0" text-anchor="end" textLength="7.51" lengthAdjust="spacingAndGlyphs" fill="#111" stroke="#111" stroke-width="0.12">725</text>
</g>
<g>
<g>
<rect x="21.4" y="377.6" width="152.5" height="151.5" fill="#AB0F0F"/>
<path d="M21.4,377.6 22.5,377.6 26.1,381.8 29.9,385.8 33.8,389.4 37.9,392.9 41.4,395.6 45,398 49,400.4 52.6,402.4 56.7,404.3 60.8,406 65,407.4 69.3,408.6 73.8,409.6 77.9,410.2 82,410.6 86.8,410.8 91.5,410.6 95.6,410.2 99.7,409.6 104.2,408.6 108.5,407.3 112.7,405.9 116.8,404.1 120.6,402.2 124.4,399.9 128.1,397.5 132,394.6 135.4,391.6 139.1,388.1 142.1,384.8 145,381.3 147.8,377.6 173.9,377.6 173.9,529.1 21.4,529.1 21.4,377.6Z" fill="#FF0000"/>
<path d="M173.8,399.8 173.9,399.6 173.9,529.1 21.4,529.1 21.4,422.8 26.1,426.4 30.8,429.6 35.5,432.5 40.2,435.1 45,437.5 50.3,439.8 55.6,441.8 60.8,443.4 66.1,444.8 71.4,445.9 76.7,446.7 82,447.2 87.3,447.4 92.6,447.3 97.9,447 103.2,446.3 108.5,445.4 113.8,444.1 119.1,442.5 123.9,440.8 128.6,438.8 133.3,436.6 138,434 142.7,431 147.2,427.9 151.5,424.5 155.6,421 159.4,417.4 163.3,413.3 166.8,409.2 170.4,404.7 173.8,399.8Z" fill="#FFF03A"/>
<path d="M173.5,441.9 173.9,441.6 173.9,529.1 21.4,529.1 21.4,455.4 26.1,458.2 30.8,460.9 35.5,463.2 40.2,465.4 45,467.4 49.7,469.1 54.4,470.7 59.7,472.1 65,473.4 69.7,474.3 75,475.1 79.7,475.6 85,476 90.3,476.1 95.6,476 100.3,475.6 105.6,475.1 110.3,474.3 115.6,473.3 120.3,472.1 125,470.8 129.7,469.2 134.5,467.4 139.2,465.3 143.9,463.1 148.6,460.5 153.3,457.7 157.4,455 161.5,452.1 165.7,448.8 169.7,445.5 173.5,441.9Z" fill="#E1C400"/>
<path d="M173.2,472.9 173.9,472.4 173.9,529.1 21.4,529.1 21.4,481.9 26.1,484.4 30.8,486.7 35.5,488.8 40.2,490.7 45,492.4 49.7,494 55,495.5 59.7,496.7 64.4,497.7 69.7,498.7 74.4,499.4 79.7,499.9 85,500.3 89.7,500.4 95,500.4 99.7,500.2 104.4,499.8 109.7,499.2 114.4,498.4 119.1,497.5 123.9,496.5 128.6,495.2 133.3,493.8 138,492.1 142.7,490.3 147.4,488.2 152.1,486 156.2,483.8 160.9,481.1 165.1,478.6 169.2,475.8 173.2,472.9Z" fill="#2D58C8"/>
<path d="M173.9,498.1 173.9,529.1 21.4,529.1 21.4,505 30.8,509.2 40.2,512.9 49.7,515.9 55,517.3 59.7,518.4 69.1,520.1 74.4,520.9 79.1,521.4 83.8,521.7 89.1,521.9 94.4,521.9 99.1,521.8 104.2,521.5 109.1,521 118.6,519.7 123.9,518.6 128.6,517.6 138,514.9 142.7,513.3 147.4,511.6 156.2,507.8 165.1,503.3 169.2,501 173.9,498.1Z" fill="#4B1A92"/>
<path d="M173.7,519.7 173.9,519.6 173.9,529.1 154,529.1 159.2,526.9 163.9,524.8 168.6,522.5 173.7,519.7ZM21.4,525 21.4,524.8 26.7,527.1 31.8,529.1 21.4,529.1 21.4,525Z" fill="#6C1480"/>
<path d="M22.5,377.6 25.5,381.1 29.1,384.9 32.6,388.4 36.1,391.5 40,394.6 43.8,397.2 47.9,399.8 52,402.1 56.1,404 60.3,405.8 65,407.4 69.1,408.5 73.2,409.5 77.9,410.2 82,410.6 86.8,410.8 91.5,410.6 95.6,410.2 99.7,409.6 104.2,408.6 108.5,407.3 112.7,405.9 116.8,404.1 120.6,402.2 124.4,399.9 128.1,397.5 132,394.6 135.4,391.6 139.1,388.1 142.1,384.8 145,381.3 147.8,377.6M21.4,422.8 26.1,426.4 30.8,429.6 35.5,432.5 40.2,435.1 45,437.5 50.3,439.8 55.6,441.8 60.8,443.4 66.1,444.8 71.4,445.9 76.7,446.7 82,447.2 87.3,447.4 92.6,447.3 97.9,447 103.2,446.3 108.5,445.4 113.8,444.1 119.1,442.5 123.9,440.8 128.6,438.8 133.3,436.6 138,434 142.7,431 147.2,427.9 151.5,424.5 155.6,421 159.8,417 163.8,412.7 167.3,408.6 170.9,403.9 173.9,399.6M21.4,455.4 26.1,458.2 30.8,460.9 35.5,463.2 40.2,465.4 45,467.4 50.3,469.3 55,470.8 60.3,472.3 65.6,473.5 70.3,474.4 75.6,475.2 80.3,475.7 85.6,476 90.9,476.1 96.2,475.9 100.9,475.6 106.2,475 110.9,474.2 116.2,473.2 120.9,472 125.6,470.6 130.3,469 135,467.2 139.7,465.1 144.5,462.8 149.2,460.2 153.3,457.7 157.7,454.8 162.1,451.6 166.2,448.4 170.3,444.9 173.9,441.6M21.4,481.9 26.1,484.4 30.8,486.7 35.5,488.8 40.2,490.7 45,492.4 49.7,494 55,495.5 59.7,496.7 64.4,497.7 69.7,498.7 74.4,499.4 79.7,499.9 85,500.3 89.7,500.4 95,500.4 99.7,500.2 104.4,499.8 109.7,499.2 114.4,498.4 119.3,497.5 124.4,496.3 129.2,495 133.9,493.6 138.6,491.9 143.3,490 148,488 152.5,485.8 156.8,483.5 161,481.1 165.7,478.2 169.8,475.4 173.9,472.4M21.4,505 30.8,509.2 40.2,512.9 49.7,515.9 55,517.3 59.7,518.4 69.1,520.1 74.4,520.9 79.1,521.4 83.8,521.7 89.1,521.9 94.4,521.9 99.1,521.8 104.2,521.5 109.1,521 118.6,519.7 123.9,518.6 128.6,517.6 138,514.9 142.7,513.3 147.4,511.6 156.2,507.8 165.1,503.3 169.8,500.6 173.9,498.1M21.4,524.8 26.7,527.1 31.8,529.1M154,529.1 159.2,526.9 163.9,524.8 169.2,522.2 173.9,519.6" fill="none" stroke="#1c1c10" stroke-width="0.45"/>
<path fill="#fff" fill-rule="evenodd" d="M20.4,376.6H174.9V530.1H20.4ZM23.4,379.6H171.9V527.1H23.4Z"/>
</g>
<path d="M23.2,379.6V527.3H171.9" fill="none" stroke="#aaa" stroke-width="0.4"/>
<path d="M23.2,379.6h-1.3M23.2,410.3h-1.3M23.2,440.9h-1.3M23.2,471.6h-1.3M23.2,502.3h-1.3M23.6,527.3v1.3M60.8,527.3v1.3M97.9,527.3v1.3M135.1,527.3v1.3M172.2,527.3v1.3" stroke="#888" stroke-width="0.4"/>
<text x="20.4" y="381.5" font-size="6.1" text-anchor="end" textLength="6.38" lengthAdjust="spacingAndGlyphs" fill="#111" stroke="#111" stroke-width="0.12">25</text>
<text x="20.4" y="412.2" font-size="6.1" text-anchor="end" textLength="6.38" lengthAdjust="spacingAndGlyphs" fill="#111" stroke="#111" stroke-width="0.12">20</text>
<text x="20.4" y="442.8" font-size="6.1" text-anchor="end" textLength="6.38" lengthAdjust="spacingAndGlyphs" fill="#111" stroke="#111" stroke-width="0.12">15</text>
<text x="20.4" y="473.5" font-size="6.1" text-anchor="end" textLength="6.38" lengthAdjust="spacingAndGlyphs" fill="#111" stroke="#111" stroke-width="0.12">10</text>
<text x="20.4" y="504.2" font-size="6.1" text-anchor="end" fill="#111" stroke="#111" stroke-width="0.12">5</text>
<text x="23.6" y="535.2" font-size="6.1" text-anchor="middle" textLength="9.57" lengthAdjust="spacingAndGlyphs" fill="#111" stroke="#111" stroke-width="0.12">800</text>
<text x="60.8" y="535.2" font-size="6.1" text-anchor="middle" textLength="9.57" lengthAdjust="spacingAndGlyphs" fill="#111" stroke="#111" stroke-width="0.12">850</text>
<text x="97.9" y="535.2" font-size="6.1" text-anchor="middle" textLength="9.57" lengthAdjust="spacingAndGlyphs" fill="#111" stroke="#111" stroke-width="0.12">900</text>
<text x="135.1" y="535.2" font-size="6.1" text-anchor="middle" textLength="9.57" lengthAdjust="spacingAndGlyphs" fill="#111" stroke="#111" stroke-width="0.12">950</text>
<text x="172.2" y="535.2" font-size="6.1" text-anchor="middle" textLength="12.76" lengthAdjust="spacingAndGlyphs" fill="#111" stroke="#111" stroke-width="0.12">1000</text>
<text x="98.7" y="378.5" font-size="8.2" text-anchor="middle" font-weight="bold" textLength="75.20" lengthAdjust="spacingAndGlyphs" fill="#111">Contour Plot of GRG</text>
<text x="97.3" y="544.6" font-size="7.5" text-anchor="middle" textLength="59.40" lengthAdjust="spacingAndGlyphs" fill="#111" stroke="#111" stroke-width="0.15">Mould Speed (rpm)</text>
<text x="8.6" y="453.1" font-size="7.5" text-anchor="middle" textLength="64.90" lengthAdjust="spacingAndGlyphs" transform="rotate(-90 8.6 453.1)" fill="#111" stroke="#111" stroke-width="0.15">Radial Distance (mm)</text>
<text x="197.8" y="386.9" font-size="5.0" text-anchor="middle" fill="#111" stroke="#111" stroke-width="0.12">GRG</text>
<rect x="174.9" y="388.4" width="5" height="4.6" fill="#AB0F0F"/>
<text x="196.6" y="392.3" font-size="5.0" text-anchor="middle" fill="#111" stroke="#111" stroke-width="0.12">&lt;</text>
<text x="211.7" y="392.3" font-size="5.0" text-anchor="end" textLength="8.76" lengthAdjust="spacingAndGlyphs" fill="#111" stroke="#111" stroke-width="0.12">0.40</text>
<rect x="174.9" y="394.5" width="5" height="4.6" fill="#FF0000"/>
<text x="192.4" y="398.4" font-size="5.0" text-anchor="end" textLength="8.76" lengthAdjust="spacingAndGlyphs" fill="#111" stroke="#111" stroke-width="0.12">0.40</text>
<text x="196.6" y="398.4" font-size="5.0" text-anchor="middle" fill="#111" stroke="#111" stroke-width="0.12">–</text>
<text x="211.7" y="398.4" font-size="5.0" text-anchor="end" textLength="8.76" lengthAdjust="spacingAndGlyphs" fill="#111" stroke="#111" stroke-width="0.12">0.45</text>
<rect x="174.9" y="400.6" width="5" height="4.6" fill="#FFF03A"/>
<text x="192.4" y="404.5" font-size="5.0" text-anchor="end" textLength="8.76" lengthAdjust="spacingAndGlyphs" fill="#111" stroke="#111" stroke-width="0.12">0.45</text>
<text x="196.6" y="404.5" font-size="5.0" text-anchor="middle" fill="#111" stroke="#111" stroke-width="0.12">–</text>
<text x="211.7" y="404.5" font-size="5.0" text-anchor="end" textLength="8.76" lengthAdjust="spacingAndGlyphs" fill="#111" stroke="#111" stroke-width="0.12">0.50</text>
<rect x="174.9" y="406.7" width="5" height="4.6" fill="#E1C400"/>
<text x="192.4" y="410.6" font-size="5.0" text-anchor="end" textLength="8.76" lengthAdjust="spacingAndGlyphs" fill="#111" stroke="#111" stroke-width="0.12">0.50</text>
<text x="196.6" y="410.6" font-size="5.0" text-anchor="middle" fill="#111" stroke="#111" stroke-width="0.12">–</text>
<text x="211.7" y="410.6" font-size="5.0" text-anchor="end" textLength="8.76" lengthAdjust="spacingAndGlyphs" fill="#111" stroke="#111" stroke-width="0.12">0.55</text>
<rect x="174.9" y="412.8" width="5" height="4.6" fill="#2D58C8"/>
<text x="192.4" y="416.7" font-size="5.0" text-anchor="end" textLength="8.76" lengthAdjust="spacingAndGlyphs" fill="#111" stroke="#111" stroke-width="0.12">0.55</text>
<text x="196.6" y="416.7" font-size="5.0" text-anchor="middle" fill="#111" stroke="#111" stroke-width="0.12">–</text>
<text x="211.7" y="416.7" font-size="5.0" text-anchor="end" textLength="8.76" lengthAdjust="spacingAndGlyphs" fill="#111" stroke="#111" stroke-width="0.12">0.60</text>
<rect x="174.9" y="418.9" width="5" height="4.6" fill="#4B1A92"/>
<text x="192.4" y="422.8" font-size="5.0" text-anchor="end" textLength="8.76" lengthAdjust="spacingAndGlyphs" fill="#111" stroke="#111" stroke-width="0.12">0.60</text>
<text x="196.6" y="422.8" font-size="5.0" text-anchor="middle" fill="#111" stroke="#111" stroke-width="0.12">–</text>
<text x="211.7" y="422.8" font-size="5.0" text-anchor="end" textLength="8.76" lengthAdjust="spacingAndGlyphs" fill="#111" stroke="#111" stroke-width="0.12">0.65</text>
<rect x="174.9" y="424.9" width="5" height="4.6" fill="#6C1480"/>
<text x="196.6" y="428.8" font-size="5.0" text-anchor="middle" fill="#111" stroke="#111" stroke-width="0.12">&gt;</text>
<text x="211.7" y="428.8" font-size="5.0" text-anchor="end" textLength="8.76" lengthAdjust="spacingAndGlyphs" fill="#111" stroke="#111" stroke-width="0.12">0.65</text>
<text x="175.9" y="440.5" font-size="5.3" textLength="25.70" lengthAdjust="spacingAndGlyphs" fill="#111" stroke="#111" stroke-width="0.12">Hold Values</text>
<text x="182.3" y="446.5" font-size="5.0" text-anchor="middle" fill="#111" stroke="#111" stroke-width="0.12">B</text>
<text x="195.5" y="446.5" font-size="5.0" text-anchor="end" textLength="7.51" lengthAdjust="spacingAndGlyphs" fill="#111" stroke="#111" stroke-width="0.12">725</text>
<text x="182.3" y="452.7" font-size="5.0" text-anchor="middle" fill="#111" stroke="#111" stroke-width="0.12">C</text>
<text x="195.5" y="452.7" font-size="5.0" text-anchor="end" textLength="7.51" lengthAdjust="spacingAndGlyphs" fill="#111" stroke="#111" stroke-width="0.12">150</text>
</g>
<g>
<g>
<rect x="235" y="378.9" width="158.2" height="150.6" fill="#AB0F0F"/>
<path d="M392.7,379.5 393.2,379.3 393.2,529.5 235,529.5 235,467.2 237.4,464.9 245.4,457.5 253.3,450.6 261.9,443.6 269.8,437.5 278.4,431.4 286.9,425.7 295.5,420.5 304.6,415.2 313.8,410.4 323.6,405.6 333.3,401.2 344.3,396.6 355.3,392.3 366.9,388 379.2,383.8 392.7,379.5Z" fill="#FFF03A"/>
<path d="M392.9,431.8 393.2,431.6 393.2,529.5 245.2,529.5 253.9,521.9 262.5,514.7 271,507.8 280.2,500.6 289.4,493.7 297.9,487.5 306.5,481.5 315.6,475.3 324.8,469.4 334,463.7 343.1,458.2 352.9,452.6 362.7,447.2 372.4,442 382.8,436.7 392.9,431.8Z" fill="#E1C400"/>
<path d="M392.3,471.9 393.2,471.4 393.2,529.5 302.4,529.5 313.2,521.7 324.2,514 335.2,506.6 346.2,499.4 357.2,492.5 368.8,485.4 380.4,478.6 392.3,471.9Z" fill="#2D58C8"/>
<path d="M392.8,505.1 393.2,504.9 393.2,529.5 353.8,529.5 373,517.1 392.8,505.1Z" fill="#6C1480"/>
<path d="M235,467.2 243.6,459.2 252.1,451.6 260,445 268.6,438.4 277.1,432.2 285.7,426.5 294.2,421.2 303.4,415.9 313.2,410.7 323,405.9 333.3,401.2 343.7,396.8 354.7,392.5 366.9,388 379.2,383.8 393.2,379.3M245.2,529.5 253.9,521.9 262.5,514.7 271,507.8 280.2,500.6 289.4,493.7 297.9,487.5 306.5,481.5 315.6,475.3 324.8,469.4 334,463.7 343.1,458.2 352.9,452.6 362.7,447.2 372.4,442 382.8,436.7 393.2,431.6M302.4,529.5 313.2,521.7 324.2,514 335.2,506.6 346.8,499 357.8,492.1 369.4,485.1 381.6,477.9 393.2,471.4M353.8,529.5 373,517.1 393.2,504.9" fill="none" stroke="#1c1c10" stroke-width="0.45"/>
<path fill="#fff" fill-rule="evenodd" d="M234,377.9H394.2V530.5H234ZM237,380.9H391.2V527.5H237Z"/>
</g>
<path d="M236.8,380.9V527.7H391.2" fill="none" stroke="#aaa" stroke-width="0.4"/>
<path d="M236.8,380.8h-1.3M236.8,411.4h-1.3M236.8,442.1h-1.3M236.8,472.7h-1.3M236.8,503.3h-1.3M237.4,527.7v1.3M268.2,527.7v1.3M299,527.7v1.3M329.7,527.7v1.3M360.5,527.7v1.3M391.3,527.7v1.3" stroke="#888" stroke-width="0.4"/>
<text x="234" y="382.7" font-size="6.1" text-anchor="end" textLength="6.38" lengthAdjust="spacingAndGlyphs" fill="#111" stroke="#111" stroke-width="0.12">25</text>
<text x="234" y="413.3" font-size="6.1" text-anchor="end" textLength="6.38" lengthAdjust="spacingAndGlyphs" fill="#111" stroke="#111" stroke-width="0.12">20</text>
<text x="234" y="444" font-size="6.1" text-anchor="end" textLength="6.38" lengthAdjust="spacingAndGlyphs" fill="#111" stroke="#111" stroke-width="0.12">15</text>
<text x="234" y="474.6" font-size="6.1" text-anchor="end" textLength="6.38" lengthAdjust="spacingAndGlyphs" fill="#111" stroke="#111" stroke-width="0.12">10</text>
<text x="234" y="505.2" font-size="6.1" text-anchor="end" fill="#111" stroke="#111" stroke-width="0.12">5</text>
<text x="237.4" y="535.6" font-size="6.1" text-anchor="middle" textLength="9.57" lengthAdjust="spacingAndGlyphs" fill="#111" stroke="#111" stroke-width="0.12">700</text>
<text x="268.2" y="535.6" font-size="6.1" text-anchor="middle" textLength="9.57" lengthAdjust="spacingAndGlyphs" fill="#111" stroke="#111" stroke-width="0.12">710</text>
<text x="299" y="535.6" font-size="6.1" text-anchor="middle" textLength="9.57" lengthAdjust="spacingAndGlyphs" fill="#111" stroke="#111" stroke-width="0.12">720</text>
<text x="329.7" y="535.6" font-size="6.1" text-anchor="middle" textLength="9.57" lengthAdjust="spacingAndGlyphs" fill="#111" stroke="#111" stroke-width="0.12">730</text>
<text x="360.5" y="535.6" font-size="6.1" text-anchor="middle" textLength="9.57" lengthAdjust="spacingAndGlyphs" fill="#111" stroke="#111" stroke-width="0.12">740</text>
<text x="391.3" y="535.6" font-size="6.1" text-anchor="middle" textLength="9.57" lengthAdjust="spacingAndGlyphs" fill="#111" stroke="#111" stroke-width="0.12">750</text>
<text x="307.1" y="379.2" font-size="8.2" text-anchor="middle" font-weight="bold" textLength="76.50" lengthAdjust="spacingAndGlyphs" fill="#111">Contour Plot of GRG</text>
<text x="314.1" y="545" font-size="7.5" text-anchor="middle" textLength="82.30" lengthAdjust="spacingAndGlyphs" fill="#111" stroke="#111" stroke-width="0.15">Pouring Temperature (°C)</text>
<text x="222.5" y="453.7" font-size="7.5" text-anchor="middle" textLength="65.00" lengthAdjust="spacingAndGlyphs" transform="rotate(-90 222.5 453.7)" fill="#111" stroke="#111" stroke-width="0.15">Radial Distance (mm)</text>
<text x="415.4" y="388.2" font-size="5.0" text-anchor="middle" fill="#111" stroke="#111" stroke-width="0.12">GRG</text>
<rect x="394.3" y="390" width="5.4" height="4.6" fill="#AB0F0F"/>
<text x="414.3" y="393.9" font-size="5.0" text-anchor="middle" fill="#111" stroke="#111" stroke-width="0.12">&lt;</text>
<text x="427" y="393.9" font-size="5.0" text-anchor="end" textLength="6.26" lengthAdjust="spacingAndGlyphs" fill="#111" stroke="#111" stroke-width="0.12">0.4</text>
<rect x="394.3" y="396.2" width="5.4" height="4.6" fill="#FFF03A"/>
<text x="409.7" y="400.1" font-size="5.0" text-anchor="end" textLength="6.26" lengthAdjust="spacingAndGlyphs" fill="#111" stroke="#111" stroke-width="0.12">0.4</text>
<text x="414.3" y="400.1" font-size="5.0" text-anchor="middle" fill="#111" stroke="#111" stroke-width="0.12">–</text>
<text x="427" y="400.1" font-size="5.0" text-anchor="end" textLength="6.26" lengthAdjust="spacingAndGlyphs" fill="#111" stroke="#111" stroke-width="0.12">0.5</text>
<rect x="394.3" y="402.3" width="5.4" height="4.6" fill="#E1C400"/>
<text x="409.7" y="406.2" font-size="5.0" text-anchor="end" textLength="6.26" lengthAdjust="spacingAndGlyphs" fill="#111" stroke="#111" stroke-width="0.12">0.5</text>
<text x="414.3" y="406.2" font-size="5.0" text-anchor="middle" fill="#111" stroke="#111" stroke-width="0.12">–</text>
<text x="427" y="406.2" font-size="5.0" text-anchor="end" textLength="6.26" lengthAdjust="spacingAndGlyphs" fill="#111" stroke="#111" stroke-width="0.12">0.6</text>
<rect x="394.3" y="408.5" width="5.4" height="4.6" fill="#2D58C8"/>
<text x="409.7" y="412.4" font-size="5.0" text-anchor="end" textLength="6.26" lengthAdjust="spacingAndGlyphs" fill="#111" stroke="#111" stroke-width="0.12">0.6</text>
<text x="414.3" y="412.4" font-size="5.0" text-anchor="middle" fill="#111" stroke="#111" stroke-width="0.12">–</text>
<text x="427" y="412.4" font-size="5.0" text-anchor="end" textLength="6.26" lengthAdjust="spacingAndGlyphs" fill="#111" stroke="#111" stroke-width="0.12">0.7</text>
<rect x="394.3" y="414.5" width="5.4" height="4.6" fill="#6C1480"/>
<text x="414.3" y="418.4" font-size="5.0" text-anchor="middle" fill="#111" stroke="#111" stroke-width="0.12">&gt;</text>
<text x="427" y="418.4" font-size="5.0" text-anchor="end" textLength="6.26" lengthAdjust="spacingAndGlyphs" fill="#111" stroke="#111" stroke-width="0.12">0.7</text>
<text x="396.1" y="430" font-size="5.3" textLength="26.70" lengthAdjust="spacingAndGlyphs" fill="#111" stroke="#111" stroke-width="0.12">Hold Values</text>
<text x="403.5" y="435.7" font-size="5.0" text-anchor="middle" fill="#111" stroke="#111" stroke-width="0.12">A</text>
<text x="417.1" y="435.7" font-size="5.0" text-anchor="end" textLength="7.51" lengthAdjust="spacingAndGlyphs" fill="#111" stroke="#111" stroke-width="0.12">900</text>
<text x="403.5" y="442.2" font-size="5.0" text-anchor="middle" fill="#111" stroke="#111" stroke-width="0.12">C</text>
<text x="417.1" y="442.2" font-size="5.0" text-anchor="end" textLength="7.51" lengthAdjust="spacingAndGlyphs" fill="#111" stroke="#111" stroke-width="0.12">150</text>
</g>
</svg></body></html>
